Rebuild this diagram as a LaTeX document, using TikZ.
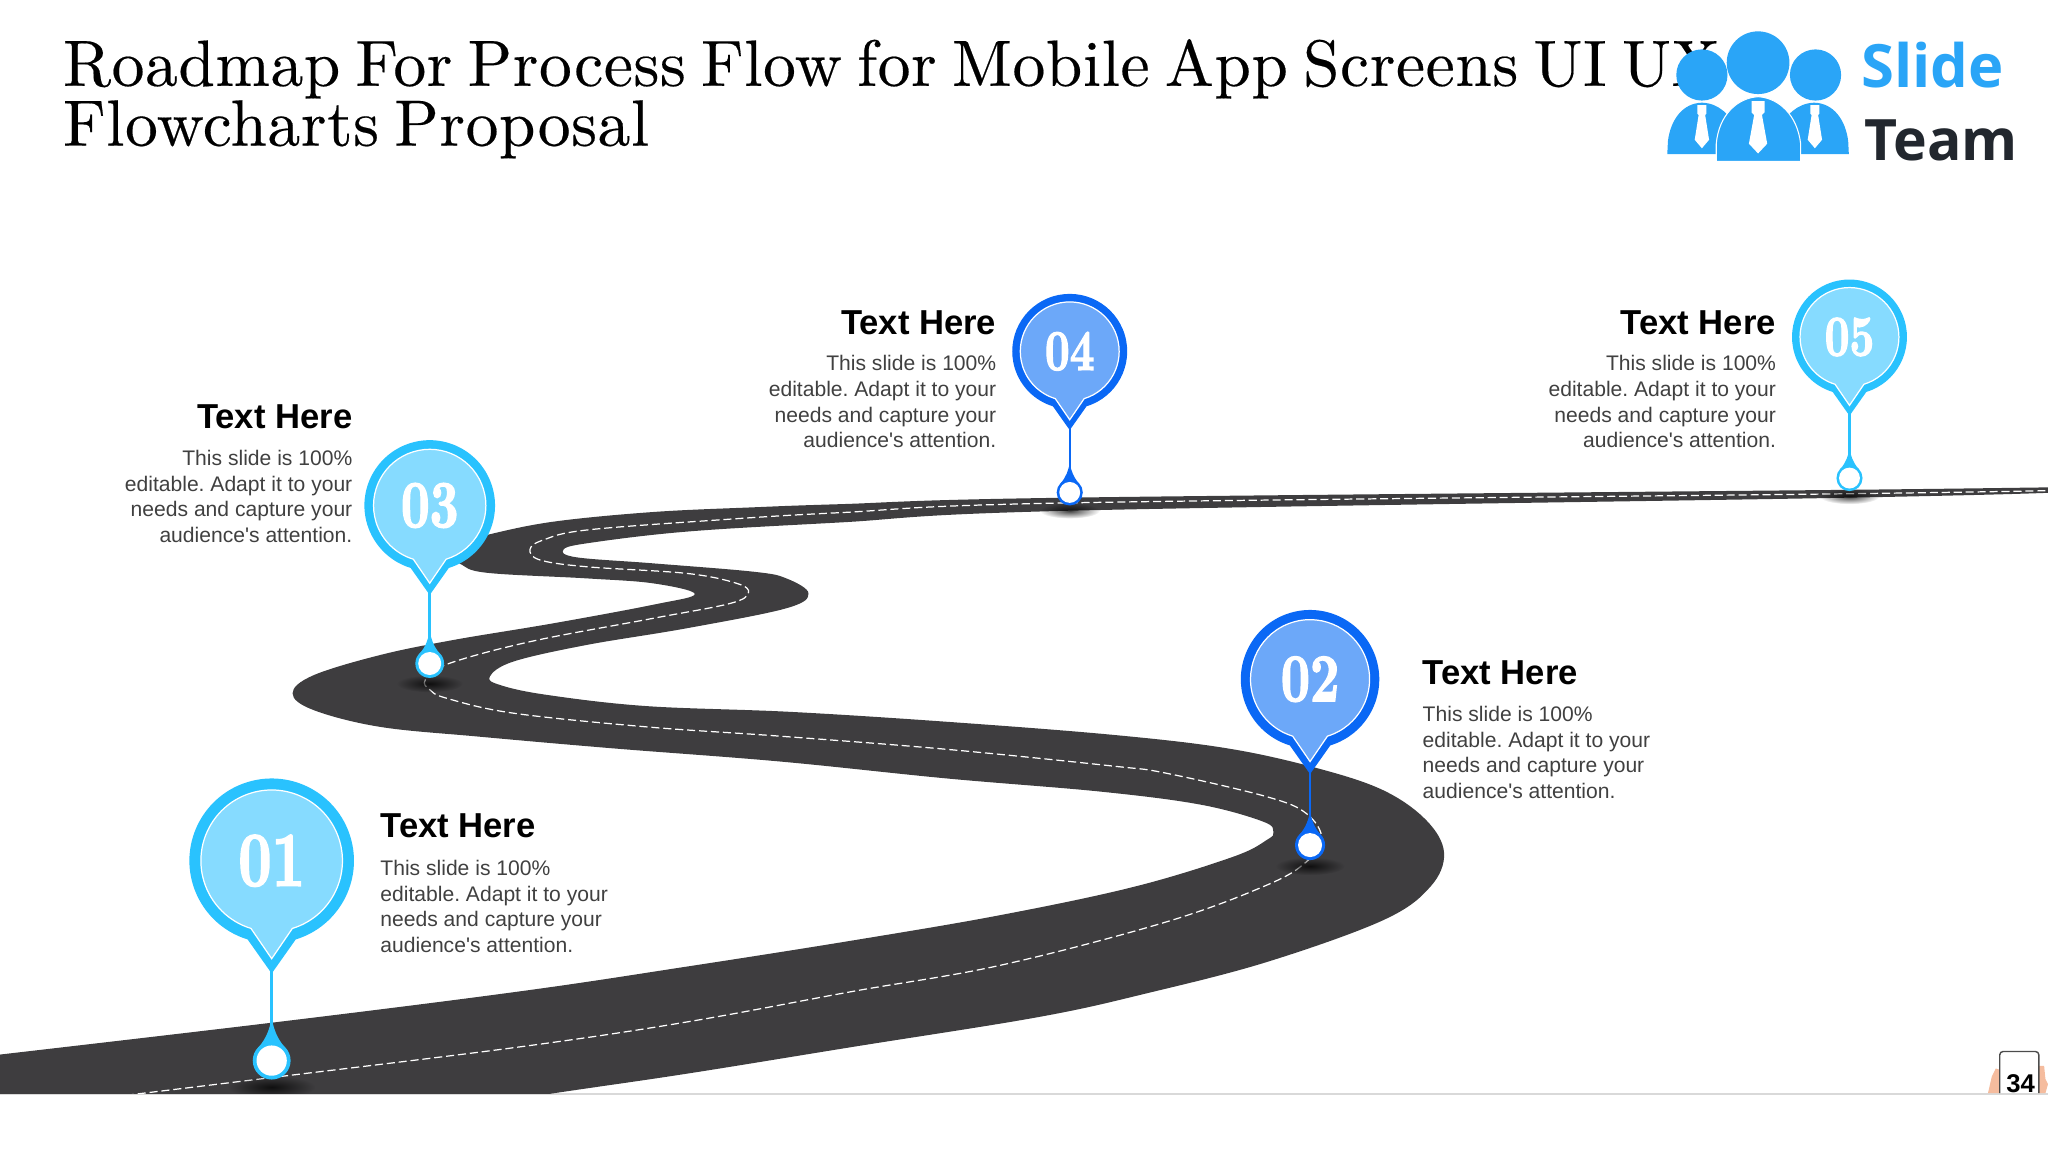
\documentclass[tikz,border=0pt]{standalone}
\usepackage{fontspec}
\setmainfont{Liberation Sans}
\newfontfamily\titlefont{lmroman10-regular}[Extension=.otf, FakeBold=0.3, LetterSpace=1, WordSpace=0.68]
\newfontfamily\numfont{lmroman10-bold}[Extension=.otf, FakeBold=2.5]
\newfontfamily\logofont{Open Sans}
\usetikzlibrary{fadings}
\frenchspacing

\definecolor{roadgrey}{HTML}{3E3D3F}
\definecolor{lightring}{HTML}{29C2FE}
\definecolor{lightfill}{HTML}{86DBFF}
\definecolor{darkring}{HTML}{0A68F5}
\definecolor{darkfill}{HTML}{6CA8F9}
\definecolor{logoblue}{HTML}{2AA5F7}
\definecolor{logodark}{HTML}{22272E}
\definecolor{handskin}{HTML}{F5BC9E}

\tikzfading[name=footfade, inner color=transparent!25, outer color=transparent!100]

\tikzset{
    headtxt/.style={inner sep=0pt, font=\fontsize{19.7}{23}\selectfont\bfseries, text=black},
    bodytxt/.style={inner sep=0pt, font=\fontsize{12}{14.6}\selectfont, text=black!75},
    pinnum/.style={inner sep=0pt, text=white, transform shape, xscale=0.75},
    tiepart/.style={fill=white}
}

% x, y, radius, foot y, foot radius, ring colour, fill colour
\newcommand{\roadpin}[7]{
        \begin{scope}
            \clip (0,0) rectangle (1568,837);
            \fill [black, path fading=footfade] (#1,#4+#5*1.4) ellipse [x radius=#5*2.3, y radius=#5*0.6];
        \end{scope}
        \draw [#6, line width=#3*0.03pt] (#1,#2+#3) -- (#1,#4);
        %foot
        \fill [#6] (#1,#4) circle [radius=#5];
        \fill [#6] (#1,#4-#5*2.2) .. controls (#1+#5*0.12,#4-#5*1.7) and (#1+#5*0.25,#4-#5*1.2) .. (#1+#5*0.7,#4-#5*0.7)
            -- (#1-#5*0.7,#4-#5*0.7) .. controls (#1-#5*0.25,#4-#5*1.2) and (#1-#5*0.12,#4-#5*1.7) .. cycle;
        \fill [white] (#1,#4) circle [radius=#5*0.8];
        %head
        \begin{scope}[shift={(#1,#2)}, x=#3*0.02612cm, y=#3*0.02612cm]
            \fill [#6] (-73:1) arc [start angle=-73, end angle=253, radius=1] -- (0,-1.37) -- cycle;
            \draw [white, fill=#7, line width=0.7pt] (-73:0.86) arc [start angle=-73, end angle=253, radius=0.86] -- (0,-1.19) -- cycle;
        \end{scope}
}

\begin{document}
\begin{tikzpicture}[x=0.02612cm, y=-0.02612cm]
        \useasboundingbox (0,0) rectangle (1568,882);

        %title
        \node [anchor=base west, inner sep=0pt, align=left, font=\titlefont\fontsize{37.2}{32.3}\selectfont] (title) at (48,111.5)
            {Roadmap For Process Flow for Mobile App Screens UI UX\\Flowcharts Proposal};

        %bottom line
        \draw [black!15, line width=0.8pt] (0,837.5) -- (1568,837.5);

        %road
        \begin{scope}
            \clip (0,0) rectangle (1568,837);
            \fill [roadgrey] plot [smooth, tension=0.6] coordinates {
                (-40,812) (208,783) (398,759) (526,740) (653,720) (766,700.6) (868,679) (944,656) (970,643) (975,637) (967,629)
                (919,616) (842,606) (725,596) (597,583) (470,573) (367,564) (291,556.5) (240,543.6) (224,530.8) (240,517)
                (291,501.5) (347,490) (423.7,477.2) (500,463) (532,454.8) (500,446.6) (449,442.8) (372.6,438.5) (352,431.5)
                (335,420) (372.6,409.6) (423.7,399.4) (500,392) (576.8,388.4) (643,386) (819,381) (1416,375) (1600,373)
                (1600,376) (1416,381) (819,391) (643,400) (525.8,407) (449,416) (431.3,421) (441.5,426.7) (500,431.3)
                (576.8,437.7) (602,442.8) (619,454.3) (602,465.7) (525.8,481) (449,493.8) (393,506.5) (375,518) (383,524.5)
                (418.6,532) (495,540.6) (605,545) (725,552.6) (852,562.6) (940,573) (1008,588) (1059,605) (1092,628)
                (1105.6,653) (1095,679) (1059,704.5) (970,736.5) (880,760) (796,778.5) (653,801.5) (526,822) (424,837)
                (340,850) (-40,860)
            } -- cycle;
            %middle line
            \draw [white, line width=0.7pt, dash pattern=on 4.6pt off 2.2pt] plot [smooth, tension=0.6] coordinates {
                (60,843) (208,825) (398,801.5) (526,782.4) (653,759) (766,739) (893,705.8) (970,677.6) (1000,660) (1012,642)
                (1000,622.7) (970,610) (893,592) (852,586.5) (725,573.7) (597,563.6) (495,556.5) (393,546) (342,534.6)
                (329,528) (325.6,520.6) (342,508.6) (405.7,491.3) (500,473.4) (559,462) (573,453.8) (564,446.6) (525.8,439)
                (449,433.9) (413.4,428.7) (405.8,420.6) (416,413.4) (449,405.8) (551,398) (643,392.5) (819,385) (1416,378) (1600,375)
            };
        \end{scope}

        %pins
        \roadpin{208}{659}{63}{812}{14.5}{lightring}{lightfill}
        \roadpin{1003}{520}{53}{647}{11.5}{darkring}{darkfill}
        \roadpin{329}{387}{50}{508}{11}{lightring}{lightfill}
        \roadpin{819}{269}{44}{377}{10}{darkring}{darkfill}
        \roadpin{1416}{258}{44}{366}{10}{lightring}{lightfill}

        \node [pinnum, font=\numfont\fontsize{44}{44}\selectfont] (numone) at (208,659) {01};
        \node [pinnum, font=\numfont\fontsize{38.6}{38}\selectfont] (numtwo) at (1003,520) {02};
        \node [pinnum, font=\numfont\fontsize{38}{38}\selectfont] (numthree) at (329,387) {03};
        \node [pinnum, font=\numfont\fontsize{32.7}{33}\selectfont] (numfour) at (819,269) {04};
        \node [pinnum, font=\numfont\fontsize{32.7}{33}\selectfont] (numfive) at (1416,258) {05};

        %texts on the right of a pin
        \node [headtxt, anchor=west] (headone) at (291,632) {Text Here};
        \node [bodytxt, anchor=west, align=left] (bodyone) at (291,694)
            {This slide is 100\%\\editable. Adapt it to your\\needs and capture your\\audience\textquotesingle s attention.};
        \node [headtxt, anchor=west] (headtwo) at (1089,515) {Text Here};
        \node [bodytxt, anchor=west, align=left] (bodytwo) at (1089,576)
            {This slide is 100\%\\editable. Adapt it to your\\needs and capture your\\audience\textquotesingle s attention.};

        %texts on the left of a pin
        \node [headtxt, anchor=east] (headthree) at (270,319) {Text Here};
        \node [bodytxt, anchor=east, align=right] (bodythree) at (270,380)
            {This slide is 100\%\\editable. Adapt it to your\\needs and capture your\\audience\textquotesingle s attention.};
        \node [headtxt, anchor=east] (headfour) at (763,247) {Text Here};
        \node [bodytxt, anchor=east, align=right] (bodyfour) at (763,307.5)
            {This slide is 100\%\\editable. Adapt it to your\\needs and capture your\\audience\textquotesingle s attention.};
        \node [headtxt, anchor=east] (headfive) at (1360,247) {Text Here};
        \node [bodytxt, anchor=east, align=right] (bodyfive) at (1360,307.5)
            {This slide is 100\%\\editable. Adapt it to your\\needs and capture your\\audience\textquotesingle s attention.};

        %logo side people
        \fill [logoblue] (1303,57.4) circle [radius=19.6];
        \fill [logoblue] (1390,57.4) circle [radius=19.6];
        \fill [logoblue] (1276.5,118) -- (1277,108) .. controls (1279,92) and (1288,79) .. (1303,78.6)
            .. controls (1316,79) and (1325,88) .. (1330,100) -- (1330,118) -- cycle;
        \fill [logoblue] (1415.5,118) -- (1415,108) .. controls (1413,92) and (1404,79) .. (1389,78.6)
            .. controls (1376,79) and (1367,88) .. (1362,100) -- (1362,118) -- cycle;
        \fill [tiepart] (1299.5,80.5) -- (1306.5,80.5) -- (1306.5,87) -- (1305.5,88) -- (1308.5,107) -- (1303,113.5)
            -- (1297.5,107) -- (1300.5,88) -- (1299.5,87) -- cycle;
        \fill [tiepart] (1386,80.5) -- (1393,80.5) -- (1393,87) -- (1392,88) -- (1395,107) -- (1389.5,113.5)
            -- (1384,107) -- (1387,88) -- (1386,87) -- cycle;
        %logo middle person
        \fill [logoblue] (1346,48) circle [radius=24];
        \draw [white, line width=0.6pt, fill=logoblue] (1314,123.5) -- (1314,110) .. controls (1316,88) and (1330,75) .. (1346,74)
            .. controls (1362,75) and (1376,88) .. (1378.6,110) -- (1378.6,123.5) -- cycle;
        \fill [tiepart] (1341,77.5) -- (1351,77.5) -- (1351,86) -- (1349,88) -- (1353,110) -- (1346,117.5)
            -- (1339,110) -- (1343,88) -- (1341,86) -- cycle;
        %logo words
        \node [inner sep=0pt, text=logoblue, anchor=base west, font=\logofont\fontsize{34}{34}\selectfont\bfseries] (logoslide) at (1425,67) {Slide};
        \node [inner sep=0pt, text=logodark, anchor=base west, font=\logofont\fontsize{32.5}{33}\selectfont\bfseries] (logoteam) at (1427,123) {Team};

        %page number
        \fill [handskin] (1522,837) -- (1525,824) -- (1528,818) -- (1531,819) -- (1531,837) -- cycle;
        \fill [handskin] (1561,837) -- (1561,816) -- (1565,816) -- (1566,826) -- (1568,830) -- (1566,837) -- cycle;
        \draw [black!70, line width=0.8pt, rounded corners=2pt] (1531,837) -- (1531,805) -- (1561,805) -- (1561,837);
        \node [inner sep=0pt, font=\fontsize{14.6}{15}\selectfont\bfseries] (pagenum) at (1547,830) {34};
\end{tikzpicture}
\end{document}
